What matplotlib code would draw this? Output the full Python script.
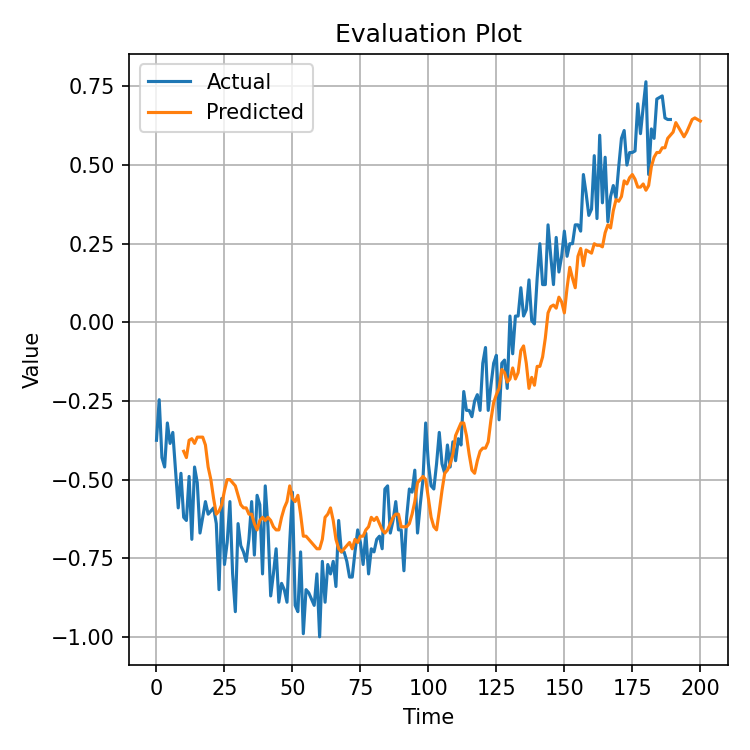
import numpy as np
import matplotlib
matplotlib.use("Agg")
import matplotlib.pyplot as plt

# Actual values, time steps 0..189
actual = [
    -0.375, -0.246, -0.43, -0.46, -0.32, -0.385, -0.35, -0.47, -0.59, -0.48,
    -0.62, -0.63, -0.49, -0.69, -0.46, -0.51, -0.67, -0.62, -0.57, -0.61,
    -0.60, -0.59, -0.64, -0.85, -0.56, -0.77, -0.70, -0.57, -0.80, -0.92,
    -0.64, -0.71, -0.73, -0.76, -0.69, -0.57, -0.74, -0.55, -0.58, -0.80,
    -0.52, -0.65, -0.87, -0.80, -0.72, -0.89, -0.83, -0.85, -0.89, -0.70,
    -0.54, -0.90, -0.92, -0.73, -0.99, -0.85, -0.86, -0.88, -0.90, -0.80,
    -1.00, -0.76, -0.89, -0.77, -0.80, -0.76, -0.84, -0.63, -0.73, -0.73,
    -0.76, -0.81, -0.81, -0.73, -0.66, -0.70, -0.77, -0.67, -0.80, -0.72,
    -0.73, -0.69, -0.68, -0.72, -0.53, -0.52, -0.67, -0.63, -0.57, -0.66,
    -0.66, -0.79, -0.62, -0.53, -0.54, -0.47, -0.67, -0.58, -0.50, -0.32,
    -0.45, -0.52, -0.53, -0.45, -0.35, -0.45, -0.48, -0.39, -0.46, -0.38,
    -0.44, -0.37, -0.39, -0.22, -0.28, -0.28, -0.30, -0.25, -0.23, -0.28,
    -0.13, -0.08, -0.28, -0.20, -0.13, -0.105, -0.31, -0.13, -0.12, -0.21,
    0.02, -0.10, 0.02, 0.02, 0.11, 0.02, 0.04, 0.135, 0.005, -0.005,
    0.14, 0.25, 0.12, 0.12, 0.31, 0.21, 0.12, 0.27, 0.16, 0.21,
    0.29, 0.21, 0.25, 0.25, 0.31, 0.31, 0.29, 0.47, 0.41, 0.34,
    0.36, 0.53, 0.33, 0.595, 0.38, 0.525, 0.32, 0.40, 0.435, 0.395,
    0.495, 0.585, 0.61, 0.50, 0.54, 0.54, 0.545, 0.695, 0.60, 0.685,
    0.765, 0.47, 0.615, 0.585, 0.71, 0.715, 0.72, 0.65, 0.645, 0.645,
]

# Predicted values, time steps 10..200
predicted_start = 10
predicted = [
    -0.41, -0.43, -0.375, -0.37, -0.385, -0.365, -0.365, -0.365, -0.39, -0.46,
    -0.50, -0.56, -0.61, -0.60, -0.58, -0.535, -0.50, -0.50, -0.51, -0.52,
    -0.55, -0.58, -0.59, -0.59, -0.61, -0.61, -0.64, -0.66, -0.63, -0.62,
    -0.63, -0.62, -0.63, -0.65, -0.66, -0.66, -0.62, -0.59, -0.57, -0.52,
    -0.56, -0.57, -0.55, -0.61, -0.68, -0.68, -0.69, -0.70, -0.71, -0.72,
    -0.72, -0.69, -0.62, -0.61, -0.59, -0.63, -0.69, -0.72, -0.73, -0.72,
    -0.71, -0.70, -0.72, -0.69, -0.70, -0.68, -0.68, -0.66, -0.65, -0.62,
    -0.63, -0.62, -0.64, -0.66, -0.67, -0.66, -0.64, -0.62, -0.61, -0.61,
    -0.65, -0.65, -0.65, -0.64, -0.61, -0.57, -0.51, -0.50, -0.49, -0.50,
    -0.56, -0.62, -0.65, -0.66, -0.60, -0.535, -0.48, -0.47, -0.45, -0.42,
    -0.36, -0.34, -0.32, -0.32, -0.36, -0.42, -0.47, -0.48, -0.44, -0.41,
    -0.40, -0.40, -0.38, -0.31, -0.255, -0.23, -0.21, -0.15, -0.16, -0.19,
    -0.18, -0.145, -0.18, -0.16, -0.09, -0.075, -0.13, -0.21, -0.175, -0.20,
    -0.14, -0.14, -0.11, -0.05, 0.03, 0.05, 0.055, 0.045, 0.08, 0.065,
    0.03, 0.11, 0.175, 0.14, 0.11, 0.21, 0.235, 0.18, 0.23, 0.225,
    0.22, 0.25, 0.245, 0.245, 0.24, 0.285, 0.31, 0.30, 0.355, 0.39,
    0.385, 0.40, 0.45, 0.44, 0.46, 0.47, 0.455, 0.43, 0.43, 0.44,
    0.42, 0.435, 0.495, 0.525, 0.54, 0.54, 0.555, 0.555, 0.585, 0.595,
    0.605, 0.635, 0.62, 0.605, 0.59, 0.605, 0.625, 0.645, 0.65, 0.645,
    0.64,
]

t_actual = np.arange(len(actual))
t_pred = np.arange(predicted_start, predicted_start + len(predicted))

fig, ax = plt.subplots(figsize=(5, 5), dpi=150)
ax.plot(t_actual, actual, label="Actual")
ax.plot(t_pred, predicted, label="Predicted")
ax.set_title("Evaluation Plot")
ax.set_xlabel("Time")
ax.set_ylabel("Value")
ax.legend(loc="upper left")
ax.grid(True)
fig.tight_layout()
fig.savefig("out.png", dpi=150)
